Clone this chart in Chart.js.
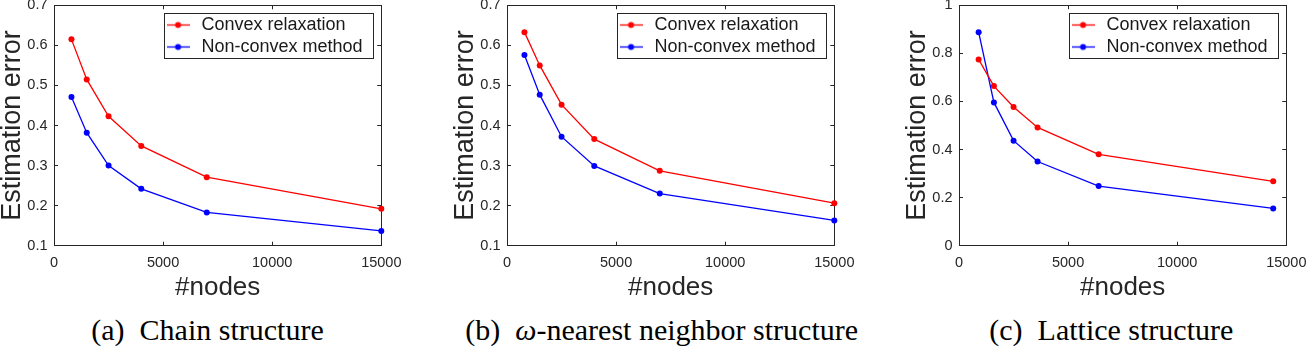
<!DOCTYPE html>
<html>
<head>
<meta charset="utf-8">
<script src="https://cdn.jsdelivr.net/npm/chart.js@4.4.1/dist/chart.umd.min.js"></script>
<style>
html,body{margin:0;padding:0;background:#fff;width:1308px;height:350px;overflow:hidden;position:relative;}
canvas{position:absolute;top:0;}
.cap{position:absolute;top:314.9px;font-family:'Liberation Serif','Times New Roman',serif;font-size:30px;line-height:30px;color:#000;white-space:nowrap;transform:translateX(-50%);}
</style>
</head>
<body>
<canvas id="c1" width="430" height="305" style="left:0px;width:430px;height:305px"></canvas>
<canvas id="c2" width="430" height="305" style="left:452.7px;width:430px;height:305px"></canvas>
<canvas id="c3" width="430" height="305" style="left:904.7px;width:430px;height:305px"></canvas>
<div class="cap" style="left:207.5px">(a)&ensp;Chain structure</div>
<div class="cap" style="left:661.7px">(b)&ensp;<i>ω</i>-nearest neighbor structure</div>
<div class="cap" style="left:1111.3px">(c)&ensp;Lattice structure</div>
<script>
// ---- data ----
const seriesNames = ['Convex relaxation', 'Non-convex method'];

const nodesChain = [800, 1500, 2500, 4000, 7000, 15000];
const convexChain = [0.615, 0.515, 0.423, 0.349, 0.271, 0.192];
const nonconvexChain = [0.471, 0.382, 0.300, 0.242, 0.183, 0.137];

const nodesNeighbor = [800, 1500, 2500, 4000, 7000, 15000];
const convexNeighbor = [0.633, 0.550, 0.452, 0.366, 0.287, 0.206];
const nonconvexNeighbor = [0.576, 0.477, 0.372, 0.299, 0.230, 0.163];

const nodesLattice = [900, 1600, 2500, 3600, 6400, 14400];
const convexLattice = [0.775, 0.664, 0.577, 0.492, 0.380, 0.268];
const nonconvexLattice = [0.888, 0.596, 0.437, 0.350, 0.248, 0.155];

const xTickValues = [0, 5000, 10000, 15000];
const yTickValuesAB = [0.1, 0.2, 0.3, 0.4, 0.5, 0.6, 0.7];
const yTickValuesC = [0, 0.2, 0.4, 0.6, 0.8, 1];

const xTitle = '#nodes';
const yTitle = 'Estimation error';

// ---- style ----
const SANS = "'Liberation Sans', Arial, Helvetica, sans-serif";
const RED = '#ff0000', BLUE = '#0000ff', AXIS = '#262626';
const LEGEND_FONT = 18, MARK_W = 29;
Chart.defaults.font.family = SANS;

function markerCanvas(color) {
  const c = document.createElement('canvas');
  c.width = 23; c.height = 9;
  const g = c.getContext('2d');
  g.strokeStyle = color; g.lineWidth = 1.3;
  g.beginPath(); g.moveTo(0, 4.5); g.lineTo(23, 4.5); g.stroke();
  g.fillStyle = color;
  g.beginPath(); g.arc(11.5, 4.5, 3, 0, Math.PI * 2); g.fill();
  return c;
}
const markers = [markerCanvas(RED), markerCanvas(BLUE)];

const legendFrame = {
  id: 'legendFrame',
  afterLayout(chart) {
    const lg = chart.legend, ca = chart.chartArea;
    if (!lg) return;
    const ctx = chart.ctx;
    ctx.save();
    ctx.font = LEGEND_FONT + 'px ' + SANS;
    const tw = Math.max(...seriesNames.map(t => ctx.measureText(t).width));
    ctx.restore();
    const pad = lg.options.labels.padding;
    const boxW = MARK_W + LEGEND_FONT / 2 + tw + 10;
    const boxRight = ca.right - 8.7;
    const boxLeft = boxRight - boxW;
    lg.left = boxLeft - pad;
    lg.right = lg.left + lg.width;
    lg.top = ca.top + 6.7;
    lg.bottom = lg.top + lg.height;
    chart.$frame = {x: boxLeft, y: ca.top + 7.4, w: boxW, h: 45};
  },
  afterDraw(chart) {
    const f = chart.$frame; if (!f) return;
    const ctx = chart.ctx;
    ctx.save();
    ctx.strokeStyle = AXIS; ctx.lineWidth = 1;
    ctx.strokeRect(Math.round(f.x) + 0.5, Math.round(f.y) + 0.5, Math.round(f.w), Math.round(f.h));
    ctx.restore();
  }
};

function setTicks(arr) {
  return scale => { scale.ticks = arr.map(v => ({value: v})); };
}
function fitX(h) {
  return s => { s.height = h; s.paddingLeft = 0; s.paddingRight = 0; s.paddingTop = 0; s.paddingBottom = 0; };
}
function fitY(w) {
  return s => { s.width = w; s.paddingLeft = 0; s.paddingRight = 0; s.paddingTop = 0; s.paddingBottom = 0; };
}

function makeChart(id, xs, convex, nonconvex, yTicks) {
  const yMin = yTicks[0], yMax = yTicks[yTicks.length - 1];
  const xMin = xTickValues[0], xMax = xTickValues[xTickValues.length - 1];
  const grid = {drawOnChartArea: false, drawTicks: true, tickLength: -4, color: AXIS, tickColor: AXIS, lineWidth: 1, tickWidth: 1};
  const border = {display: true, color: AXIS, width: 1};
  const tickFont = {family: SANS, size: 14.5};
  const ds = (label, ys, color) => ({
    label, data: xs.map((x, i) => ({x, y: ys[i]})),
    borderColor: color, backgroundColor: color, borderWidth: 1.3,
    pointRadius: 3, pointHoverRadius: 3, pointBorderWidth: 0, pointBackgroundColor: color,
    tension: 0, clip: false, fill: false
  });
  return new Chart(document.getElementById(id), {
    type: 'line',
    data: {datasets: [ds(seriesNames[0], convex, RED), ds(seriesNames[1], nonconvex, BLUE)]},
    options: {
      responsive: false, animation: false, events: [],
      layout: {padding: {left: 0, top: 5.3, right: 48.7, bottom: 0}},
      plugins: {
        tooltip: {enabled: false},
        legend: {
          position: 'chartArea', align: 'start',
          labels: {
            usePointStyle: true, pointStyleWidth: MARK_W, padding: 4,
            font: {family: SANS, size: LEGEND_FONT}, color: '#1a1a1a',
            generateLabels(chart) {
              const items = Chart.defaults.plugins.legend.labels.generateLabels(chart);
              items.forEach((it, i) => { it.pointStyle = markers[i]; });
              return items;
            }
          }
        }
      },
      scales: {
        x: {
          type: 'linear', position: 'bottom', min: xMin, max: xMax,
          afterBuildTicks: setTicks(xTickValues), afterFit: fitX(59.3),
          grid, border,
          ticks: {font: tickFont, color: AXIS, padding: 12.3, autoSkip: false, maxRotation: 0, callback: v => String(v)},
          title: {display: true, text: xTitle, color: AXIS, font: {family: SANS, size: 26}, padding: {top: 0, bottom: 1.8}}
        },
        x2: {
          type: 'linear', position: 'top', min: xMin, max: xMax,
          afterBuildTicks: setTicks(xTickValues), afterFit: fitX(0),
          grid, border, ticks: {display: false}
        },
        y: {
          type: 'linear', position: 'left', min: yMin, max: yMax,
          afterBuildTicks: setTicks(yTicks), afterFit: fitY(54),
          grid, border,
          ticks: {font: tickFont, color: AXIS, padding: 10.5, autoSkip: false, callback: v => String(v)},
          title: {display: true, text: yTitle, color: AXIS, font: {family: SANS, size: 27, lineHeight: 1}, padding: {top: -1, bottom: 0}}
        },
        y2: {
          type: 'linear', position: 'right', min: yMin, max: yMax,
          afterBuildTicks: setTicks(yTicks), afterFit: fitY(0),
          grid, border, ticks: {display: false}
        }
      }
    },
    plugins: [legendFrame]
  });
}

makeChart('c1', nodesChain, convexChain, nonconvexChain, yTickValuesAB);
makeChart('c2', nodesNeighbor, convexNeighbor, nonconvexNeighbor, yTickValuesAB);
makeChart('c3', nodesLattice, convexLattice, nonconvexLattice, yTickValuesC);
</script>
</body>
</html>
